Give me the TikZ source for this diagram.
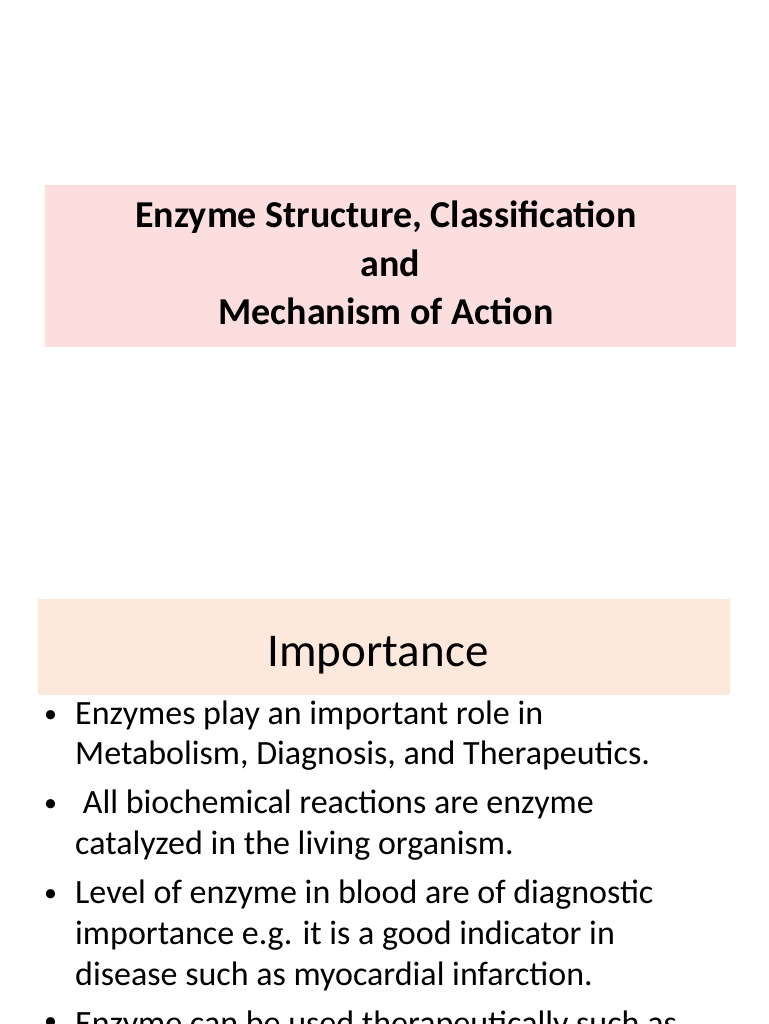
\documentclass[tikz,border=0pt]{standalone}
\usepackage{fontspec}
\setmainfont{Carlito}
\definecolor{pinkbg}{HTML}{FCDEDE}
\definecolor{peachbg}{HTML}{FDE9DB}
\tikzset{ttl/.style={font=\fontsize{38}{44}\selectfont\bfseries, anchor=base},
 bl/.style={font=\fontsize{34}{40}\selectfont, anchor=base west, inner sep=0pt},
 dot/.style={font=\fontsize{26}{30}\selectfont, anchor=base west, inner sep=0pt}}
\begin{document}
\begin{tikzpicture}[x=1pt,y=-1pt]
\useasboundingbox (0,0) rectangle (768,1024);
\clip (0,0) rectangle (768,1024);
\fill[pinkbg] (45,185) rectangle (736,347);
\fill[peachbg] (38,599) rectangle (730,695);
\node[ttl] (t1) at (386,228) {Enzyme Structure, Classification};
\node[ttl] (t2) at (390,276) {and};
\node[ttl] (t3) at (386,324) {Mechanism of Action};
\node[font=\fontsize{47}{54}\selectfont, anchor=base] (imp) at (378,666) {Importance};
\foreach \y in {722,811,901,1029} \node[dot] at (44,\y) {•};
\node[bl] (a1) at (75,724) {Enzymes play an important role in};
\node[bl] (a2) at (75,764) {Metabolism, Diagnosis, and Therapeutics.};
\node[bl] (b1) at (75,813) {\ All biochemical reactions are enzyme};
\node[bl] (b2) at (75,854) {catalyzed in the living organism.};
\node[bl] (c1) at (75,903) {Level of enzyme in blood are of diagnostic};
\node[bl] (c2) at (75,944) {importance e.g. it is a good indicator in};
\node[bl] (c3) at (75,985) {disease such as myocardial infarction.};
\node[bl] (d1) at (75,1034) {Enzyme can be used therapeutically such as};
\end{tikzpicture}
\end{document}
